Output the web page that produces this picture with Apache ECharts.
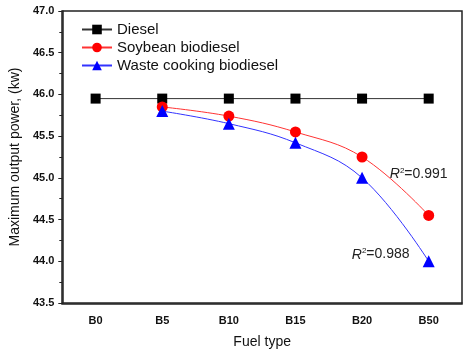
<html>
<head>
<meta charset="utf-8">
<script src="https://cdn.jsdelivr.net/npm/echarts@6/dist/echarts.min.js"></script>
</head>
<body>
<style>
    html, body, #main {
        width: 100%;
        height: 100%;
        margin: 0;
        background: #fff;
    }
</style>
<div id="main"></div>
<script>

var fuelTypes = ['B0', 'B5', 'B10', 'B15', 'B20', 'B50'];
var diesel = [45.95, 45.95, 45.95, 45.95, 45.95, 45.95];
var soybean = [null, 45.85, 45.74, 45.55, 45.25, 44.55];
var wasteCooking = [null, 45.8, 45.65, 45.42, 45.0, 44.0];
var r2Soybean = '0.991';
var r2Waste = '0.988';

var chart = echarts.init(document.getElementById('main'));
var font = 'Liberation Sans, Arial, sans-serif';

function r2Label(val, offset) {
    return {
        show: true,
        offset: offset,
        formatter: '{i|R}{s|2}{n|=' + val + '}',
        rich: {
            i: { fontStyle: 'italic', fontSize: 14, fontFamily: font, color: '#222' },
            s: { fontSize: 8, fontFamily: font, color: '#222', verticalAlign: 'top', padding: [0, 0, 8, 0] },
            n: { fontSize: 14, fontFamily: font, color: '#222' }
        }
    };
}

chart.setOption({
    animation: false,
    textStyle: { fontFamily: font },
    grid: { left: 62, right: 12, top: 11, bottom: 50 },
    legend: {
        left: 76,
        top: 17,
        orient: 'vertical',
        itemGap: 3,
        itemWidth: 30,
        itemHeight: 12,
        textStyle: { fontSize: 15, color: '#111', fontFamily: font },
        data: ['Diesel', 'Soybean biodiesel', 'Waste cooking biodiesel']
    },
    xAxis: {
        type: 'category',
        data: fuelTypes,
        name: 'Fuel type',
        nameLocation: 'middle',
        nameGap: 32,
        nameTextStyle: { fontSize: 14, color: '#111' },
        axisLine: { lineStyle: { color: '#222', width: 1.5 } },
        axisTick: { length: 4, lineStyle: { color: '#222' } },
        axisLabel: { fontSize: 11, fontWeight: 'bold', color: '#111', margin: 12 },
        splitLine: { show: false }
    },
    yAxis: {
        type: 'value',
        min: 43.5,
        max: 47.0,
        interval: 0.5,
        name: 'Maximum output power, (kw)',
        nameLocation: 'middle',
        nameGap: 37,
        nameTextStyle: { fontSize: 14, color: '#111' },
        axisLine: { show: true, lineStyle: { color: '#222', width: 1.5 } },
        axisTick: { show: true, length: 4, lineStyle: { color: '#222' } },
        minorTick: { show: true, splitNumber: 2, length: 3, lineStyle: { color: '#222' } },
        axisLabel: {
            fontSize: 11, fontWeight: 'bold', color: '#111', margin: 8,
            formatter: function (v) { return v.toFixed(1); }
        },
        splitLine: { show: false }
    },
    graphic: [{
        type: 'rect',
        shape: { x: 62, y: 11, width: 400, height: 293 },
        style: { fill: 'none', stroke: '#222', lineWidth: 1.5 },
        silent: true
    }],
    series: [
        {
            name: 'Diesel',
            type: 'line',
            data: diesel,
            symbol: 'rect',
            symbolSize: 10,
            itemStyle: { color: '#000' },
            lineStyle: { color: '#333', width: 1 }
        },
        {
            name: 'Soybean biodiesel',
            type: 'line',
            data: soybean,
            smooth: 0.4,
            symbol: 'circle',
            symbolSize: 11,
            itemStyle: { color: '#ff0000' },
            lineStyle: { color: '#ff3333', width: 1 },
            markPoint: {
                symbol: 'circle',
                symbolSize: 1,
                itemStyle: { color: 'rgba(0,0,0,0)' },
                data: [{ coord: ['B50', 45.04] }],
                label: r2Label(r2Soybean, [-10, 0])
            }
        },
        {
            name: 'Waste cooking biodiesel',
            type: 'line',
            data: wasteCooking,
            smooth: 0.4,
            symbol: 'triangle',
            symbolSize: 12,
            itemStyle: { color: '#0000ff' },
            lineStyle: { color: '#3333ff', width: 1 },
            markPoint: {
                symbol: 'circle',
                symbolSize: 1,
                itemStyle: { color: 'rgba(0,0,0,0)' },
                data: [{ coord: ['B50', 44.08] }],
                label: r2Label(r2Waste, [-48, 0])
            }
        }
    ]
});

</script>
</body>
</html>
